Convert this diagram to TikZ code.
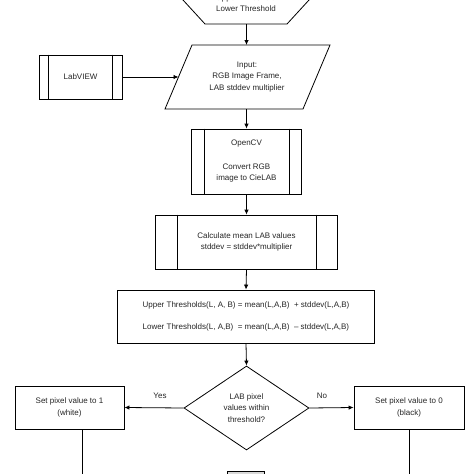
\documentclass[tikz,border=0pt]{standalone}
\usepackage{fontspec}
\setmainfont{Liberation Sans}
\usetikzlibrary{shapes.geometric,arrows.meta}
\begin{document}
\begin{tikzpicture}[x=1pt,y=-1pt,
  every node/.style={font=\fontsize{8}{11.5}\selectfont, text=black!85},
  line/.style={draw=black, line width=0.8pt},
  arr/.style={line, -{Latex[length=5pt,width=4.5pt]}},
  box/.style={line, rectangle, align=center, inner sep=0pt},
  lbl/.style={inner sep=0pt}
]
\clip (0,0) rectangle (474,474);
\fill[white] (0,0) rectangle (474,474);

% top hexagon (cut by page top)
\draw[line] (183,0) -- (205,24) -- (287,24) -- (309,0) -- (287,-24) -- (205,-24) -- cycle;
\node[lbl, align=center] (hex) at (246,3) {Upper Threshold\\Lower Threshold};
\coordinate (hexb) at (246.5,24);

% LabVIEW
\node[box, minimum width=83pt, minimum height=44pt] (lab) at (80.5,77) {LabVIEW};
\draw[line] ([xshift=10pt]lab.north west) -- ([xshift=10pt]lab.south west);
\draw[line] ([xshift=-10pt]lab.north east) -- ([xshift=-10pt]lab.south east);

% input parallelogram
\draw[line] (192,45) -- (330,45) -- (303,109) -- (165,109) -- cycle;
\node[lbl, align=center] (para) at (247,77) {Input:\\RGB Image Frame,\\LAB stddev multiplier};
\coordinate (parat) at (246.5,45);
\coordinate (parab) at (246.5,109);
\coordinate (paral) at (178.5,77);

% OpenCV
\node[box, minimum width=110pt, minimum height=65pt] (ocv) at (246.5,161.5) {OpenCV\\[12pt]Convert RGB\\image to CieLAB};
\draw[line] ([xshift=13pt]ocv.north west) -- ([xshift=13pt]ocv.south west);
\draw[line] ([xshift=-13pt]ocv.north east) -- ([xshift=-13pt]ocv.south east);

% Calculate
\node[box, minimum width=182pt, minimum height=54pt] (calc) at (246.5,242) {Calculate mean LAB values\\stddev = stddev*multiplier};
\draw[line] ([xshift=22pt]calc.north west) -- ([xshift=22pt]calc.south west);
\draw[line] ([xshift=-22pt]calc.north east) -- ([xshift=-22pt]calc.south east);

% thresholds
\node[box, minimum width=257pt, minimum height=53pt, align=left] (thr) at (246,316.5)
  {Upper Thresholds(L, A, B) = mean(L,A,B) \ + stddev(L,A,B)\\[10.5pt]Lower Thresholds(L, A,B) \ = mean(L,A,B) \ -- stddev(L,A,B)};

% decision
\node[line, diamond, minimum width=125pt, minimum height=84pt, inner sep=0pt, align=center] (dec) at (246.5,408)
  {LAB pixel\\values within\\threshold?};

% outcomes
\node[box, minimum width=109pt, minimum height=43pt] (one) at (69.5,407.5) {Set pixel value to 1\\(white)};
\node[box, minimum width=110pt, minimum height=43pt] (zero) at (409,407.5) {Set pixel value to 0\\(black)};
\node[lbl] (yes) at (160,396) {Yes};
\node[lbl] (no) at (322,396) {No};

% bottom box (cut)
\node[box, fill=black!15, minimum width=37pt, minimum height=20pt] (end) at (245.5,481) {};

\coordinate (oneb) at (82,474);
\coordinate (zerob) at (409,474);

% connectors
\draw[arr] (hexb) -- (parat);
\draw[arr] (lab.east) -- (paral);
\draw[arr] (parab) -- (ocv.north);
\draw[arr] (ocv.south) -- (calc.north);
\draw[arr] (calc.south) -- (thr.north);
\draw[arr] (thr.south) -- (dec.north);
\draw[arr] (dec.west) -- (one.east);
\draw[arr] (dec.east) -- (zero.west);
\draw[line] (one.south -| oneb) -- (oneb);
\draw[line] (zero.south) -- (zerob);
\end{tikzpicture}
\end{document}
